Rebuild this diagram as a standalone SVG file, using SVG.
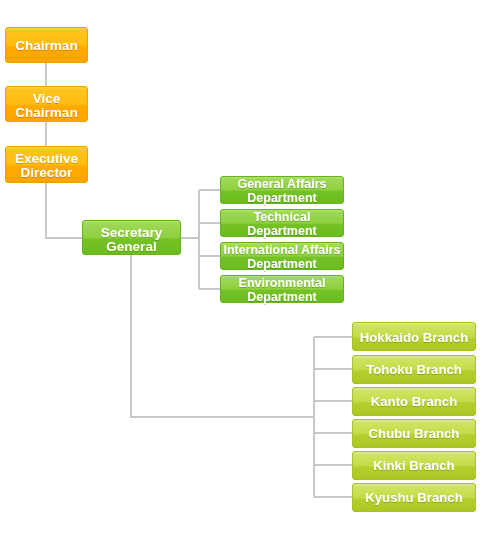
<svg xmlns="http://www.w3.org/2000/svg" width="490" height="548" viewBox="0 0 490 548">
<defs>
<linearGradient id="gOr" x1="0" y1="0" x2="0" y2="1">
<stop offset="0" stop-color="#ffd54a"/><stop offset="0.1" stop-color="#ffc41c"/><stop offset="0.5" stop-color="#ffbd10"/><stop offset="0.55" stop-color="#ffab00"/><stop offset="1" stop-color="#ffa400"/>
</linearGradient>
<linearGradient id="gGr" x1="0" y1="0" x2="0" y2="1">
<stop offset="0" stop-color="#b8e47a"/><stop offset="0.1" stop-color="#9ed855"/><stop offset="0.5" stop-color="#8ed040"/><stop offset="0.55" stop-color="#74c226"/><stop offset="1" stop-color="#6cbc1e"/>
</linearGradient>
<linearGradient id="gYg" x1="0" y1="0" x2="0" y2="1">
<stop offset="0" stop-color="#e0ee94"/><stop offset="0.1" stop-color="#cfe462"/><stop offset="0.5" stop-color="#c4dc48"/><stop offset="0.55" stop-color="#b4d02c"/><stop offset="1" stop-color="#acc822"/>
</linearGradient>
<filter id="ts" x="-10%" y="-30%" width="120%" height="160%">
<feDropShadow dx="0" dy="0.6" stdDeviation="0.6" flood-color="#000" flood-opacity="0.35"/>
</filter>
</defs>
<style>
.or{fill:url(#gOr);stroke:#f2a000;stroke-width:1}
.gr{fill:url(#gGr);stroke:#66b41c;stroke-width:1}
.yg{fill:url(#gYg);stroke:#a6c224;stroke-width:1}
.t{font-family:"Liberation Sans",Arial,sans-serif;font-weight:bold;fill:#fff;text-anchor:middle;filter:url(#ts)}
.t14{font-size:13.5px}
.t13{font-size:13.2px}
.t12{font-size:12.5px}
.ln{stroke:#c8c8c8;stroke-width:2;fill:none}
</style>
<g id="connectors">
<path class="ln" d="M46 62V86M46 122V146M46 183V238H82"/>
<path class="ln" d="M181 238H199M199 190V289M199 190H220M199 223H220M199 256H220M199 289H220"/>
<path class="ln" d="M131 255V417H314M314 337V497M314 337H352M314 369H352M314 401H352M314 433H352M314 465H352M314 497H352"/>
</g>
<g id="chairman"><rect class="or" x="5.5" y="27.5" width="82" height="35" rx="2.5"/><text class="t t14" x="46.5" y="50">Chairman</text></g>
<g id="vice-chairman"><rect class="or" x="5.5" y="86.5" width="82" height="35" rx="2.5"/><text class="t t14" x="46.5" y="103">Vice</text><text class="t t14" x="46.5" y="117">Chairman</text></g>
<g id="executive-director"><rect class="or" x="5.5" y="146.5" width="82" height="36" rx="2.5"/><text class="t t14" x="46.5" y="163">Executive</text><text class="t t14" x="46.5" y="177">Director</text></g>
<g id="secretary-general"><rect class="gr" x="82.5" y="220.5" width="98" height="34" rx="2.5"/><text class="t t14" x="131.5" y="236.5">Secretary</text><text class="t t14" x="131.5" y="250.5">General</text></g>
<g id="general-affairs"><rect class="gr" x="220.5" y="176.5" width="123" height="27" rx="2.5"/><text class="t t12" x="282" y="188">General Affairs</text><text class="t t12" x="282" y="201.5">Department</text></g>
<g id="technical"><rect class="gr" x="220.5" y="209.5" width="123" height="27" rx="2.5"/><text class="t t12" x="282" y="221">Technical</text><text class="t t12" x="282" y="234.5">Department</text></g>
<g id="international-affairs"><rect class="gr" x="220.5" y="242.5" width="123" height="27" rx="2.5"/><text class="t t12" x="282" y="254" textLength="117" lengthAdjust="spacingAndGlyphs">International Affairs</text><text class="t t12" x="282" y="267.5">Department</text></g>
<g id="environmental"><rect class="gr" x="220.5" y="275.5" width="123" height="27" rx="2.5"/><text class="t t12" x="282" y="287">Environmental</text><text class="t t12" x="282" y="300.5">Department</text></g>
<g id="hokkaido"><rect class="yg" x="352.5" y="322.5" width="123" height="28" rx="2.5"/><text class="t t13" x="414" y="342">Hokkaido Branch</text></g>
<g id="tohoku"><rect class="yg" x="352.5" y="355.5" width="123" height="28" rx="2.5"/><text class="t t13" x="414" y="374">Tohoku Branch</text></g>
<g id="kanto"><rect class="yg" x="352.5" y="387.5" width="123" height="28" rx="2.5"/><text class="t t13" x="414" y="406">Kanto Branch</text></g>
<g id="chubu"><rect class="yg" x="352.5" y="419.5" width="123" height="28" rx="2.5"/><text class="t t13" x="414" y="438">Chubu Branch</text></g>
<g id="kinki"><rect class="yg" x="352.5" y="451.5" width="123" height="28" rx="2.5"/><text class="t t13" x="414" y="470">Kinki Branch</text></g>
<g id="kyushu"><rect class="yg" x="352.5" y="483.5" width="123" height="28" rx="2.5"/><text class="t t13" x="414" y="502">Kyushu Branch</text></g>
</svg>
